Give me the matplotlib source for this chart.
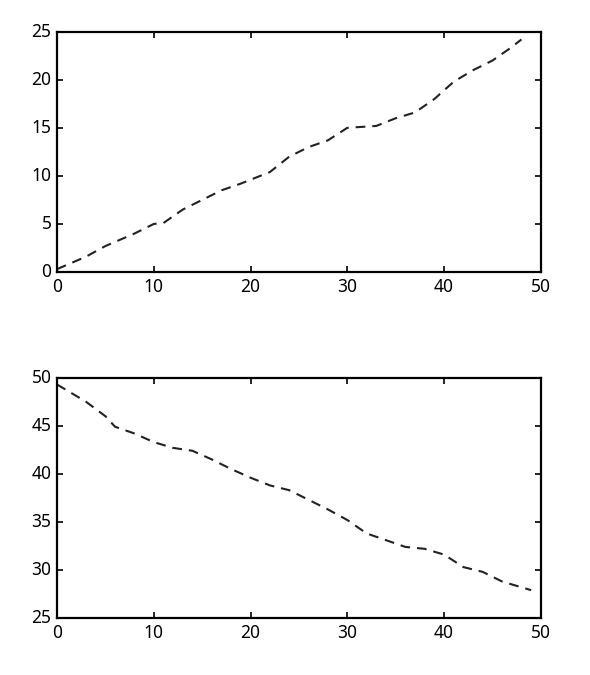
import matplotlib
matplotlib.use('Agg')
import matplotlib.pyplot as plt

plt.style.use('classic')
plt.rcParams['font.family'] = ['Noto Sans', 'DejaVu Sans']

# top series (rising)
x_up = [0, 3, 5, 8, 10, 11, 13, 15, 17, 19, 22, 24, 26, 28, 30, 33, 35, 37, 39, 41, 43, 45, 47, 48]
y_up = [0.3, 1.6, 2.7, 4.0, 5.0, 5.1, 6.5, 7.5, 8.5, 9.2, 10.4, 12.0, 13.0, 13.7, 15.0, 15.2, 16.0,
        16.6, 18.0, 19.8, 21.0, 22.0, 23.4, 24.2]

# bottom series (falling)
x_down = [0, 3, 5, 6, 8, 10, 12, 14, 16, 18, 20, 22, 24, 26, 28, 30, 32, 34, 36, 38, 40, 42, 44, 46, 48, 49]
y_down = [49.3, 47.5, 46.0, 44.9, 44.2, 43.3, 42.7, 42.4, 41.5, 40.5, 39.6, 38.8, 38.3, 37.3, 36.3,
          35.2, 33.8, 33.1, 32.4, 32.2, 31.6, 30.3, 29.8, 28.8, 28.2, 27.9]

fig = plt.figure(figsize=(5.9, 6.75), dpi=100, facecolor='white')
ax1 = fig.add_axes([0.0966, 0.597, 0.82, 0.356])
ax2 = fig.add_axes([0.0966, 0.0844, 0.82, 0.356])

ax1.plot(x_up, y_up, color='#222222', ls='--', dashes=(7, 5), lw=1.5)
ax1.set_xlim(0, 50)
ax1.set_ylim(0, 25)

ax2.plot(x_down, y_down, color='#222222', ls='--', dashes=(7, 5), lw=1.5)
ax2.set_xlim(0, 50)
ax2.set_ylim(25, 50)

for ax in (ax1, ax2):
    ax.tick_params(labelsize=12.5, width=1.2)
    for s in ax.spines.values():
        s.set_linewidth(1.6)

fig.savefig('out.png', dpi=100, facecolor='white')
